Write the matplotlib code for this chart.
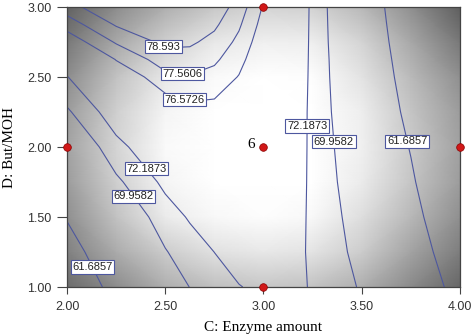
import matplotlib
matplotlib.use('Agg')
import matplotlib.pyplot as plt
import numpy as np

# grid used for the response (a bit finer where the curves bend)
enzyme = [2.00, 2.25, 2.50, 2.625, 2.75, 2.875, 3.00, 3.25, 3.50, 3.75, 4.00]
but_moh = [1.00, 1.25, 1.50, 1.75, 2.00, 2.25, 2.50, 2.625, 2.75, 2.875, 3.00]

# response (rows follow but_moh, cols follow enzyme)
response = [
    [57.0, 63.5, 68.3, 70.0, 71.3, 72.13, 72.5, 72.15, 69.7, 65.7, 59.8],
    [59.5, 65.5, 69.8, 71.2, 72.2, 72.82, 73.0, 72.05, 69.1, 64.6, 58.2],
    [62.0, 67.5, 71.2, 72.4, 73.2, 73.53, 73.4, 72.0, 68.6, 63.5, 56.6],
    [64.5, 69.5, 72.7, 73.7, 74.2, 74.26, 73.9, 71.95, 68.0, 62.4, 55.1],
    [67.0, 71.5, 74.2, 74.9, 75.2, 75.0, 74.4, 71.9, 67.5, 61.4, 53.5],
    [69.6, 73.55, 75.75, 76.19, 76.19, 75.75, 74.87, 71.85, 66.9, 60.3, 52.0],
    [72.1, 75.6, 77.29, 77.48, 77.22, 76.52, 75.39, 71.85, 66.4, 59.3, 50.4],
    [73.9, 76.63, 78.07, 78.12, 77.74, 76.92, 75.65, 71.85, 66.2, 58.8, 49.7],
    [75.9, 77.67, 78.85, 78.77, 78.26, 77.31, 75.92, 71.85, 65.9, 58.3, 48.9],
    [77.0, 78.7, 79.63, 79.43, 78.79, 77.71, 76.19, 71.85, 65.7, 57.8, 48.2],
    [78.1, 79.75, 80.42, 80.09, 79.32, 78.11, 76.47, 71.85, 65.5, 57.3, 47.4],
]

# background grey level on a coarser grid (1 = white)
shade_c = [2.00, 2.25, 2.50, 2.75, 3.00, 3.25, 3.50, 3.75, 4.00]
shade_d = [1.00, 1.25, 1.50, 1.75, 2.00, 2.25, 2.50, 2.75, 3.00]
shade = [
    [0.42, 0.55, 0.68, 0.75, 0.78, 0.76, 0.68, 0.54, 0.40],
    [0.50, 0.67, 0.80, 0.88, 0.91, 0.89, 0.80, 0.64, 0.49],
    [0.56, 0.76, 0.92, 0.97, 0.99, 0.97, 0.87, 0.72, 0.56],
    [0.61, 0.81, 0.96, 1.00, 1.00, 1.00, 0.92, 0.77, 0.61],
    [0.64, 0.83, 0.98, 1.00, 1.00, 1.00, 0.94, 0.79, 0.63],
    [0.61, 0.81, 0.96, 1.00, 1.00, 1.00, 0.93, 0.77, 0.61],
    [0.55, 0.76, 0.91, 0.98, 1.00, 0.99, 0.89, 0.73, 0.56],
    [0.47, 0.66, 0.81, 0.91, 0.94, 0.93, 0.83, 0.66, 0.47],
    [0.38, 0.55, 0.68, 0.78, 0.83, 0.82, 0.72, 0.56, 0.37],
]

levels = [61.6857, 69.9582, 72.1873, 76.5726, 77.5606, 78.593]
level_text = ['61.6857', '69.9582', '72.1873', '76.5726', '77.5606', '78.593']

# where the boxed labels sit
label_pos = [(2.50, 2.74), (2.59, 2.54), (2.60, 2.35),
             (3.22, 2.15), (3.37, 2.04), (3.73, 2.04),
             (2.41, 1.85), (2.34, 1.65), (2.14, 1.15)]

# design points
design_c = [2.0, 3.0, 3.0, 3.0, 4.0]
design_d = [2.0, 1.0, 2.0, 3.0, 2.0]

line_col = '#4d579f'

fig = plt.figure(figsize=(4.74, 3.36), dpi=100)
ax = fig.add_axes([67/474, 1-287/336, 393/474, 280/336])

SX, SY = np.meshgrid(shade_c, shade_d)
ax.pcolormesh(SX, SY, np.array(shade), shading='gouraud', cmap='gray', vmin=0, vmax=1)

X, Y = np.meshgrid(enzyme, but_moh)
cs = ax.contour(X, Y, np.array(response), levels=levels, colors=line_col, linewidths=0.8)
labels = ax.clabel(cs, inline=False, fontsize=8, fmt=dict(zip(levels, level_text)),
                   manual=label_pos, colors='#222222')
for t in labels:
    t.set_rotation(0)
    t.set_family(['Liberation Sans', 'DejaVu Sans'])
    t.set_bbox(dict(facecolor='white', edgecolor=line_col, linewidth=0.8, pad=1.2))
    t.set_zorder(5)

ax.plot(design_c, design_d, 'o', color='#d01818', mec='#8a0000', mew=0.5, ms=5.5,
        clip_on=False, zorder=6)
ax.text(2.955, 2.02, '6', family='Liberation Serif', fontsize=11, ha='right', va='center',
        zorder=6)

ax.set_xlim(2, 4)
ax.set_ylim(1, 3)
ax.set_xticks([2.0, 2.5, 3.0, 3.5, 4.0])
ax.set_yticks([1.0, 1.5, 2.0, 2.5, 3.0])
ax.set_xticklabels(['2.00', '2.50', '3.00', '3.50', '4.00'])
ax.set_yticklabels(['1.00', '1.50', '2.00', '2.50', '3.00'])
ax.tick_params(axis='x', direction='out', length=5, pad=5, labelsize=9, color='#444444',
               labelcolor='#333333')
ax.tick_params(axis='y', direction='out', length=7, pad=4, labelsize=9, color='#444444',
               labelcolor='#333333')
for lab in ax.get_xticklabels() + ax.get_yticklabels():
    lab.set_family('Liberation Sans')
for sp in ax.spines.values():
    sp.set_color('#444444')
    sp.set_linewidth(0.9)

ax.set_xlabel('C: Enzyme amount', family='Liberation Serif', fontsize=11, labelpad=6)
ax.set_ylabel('D: But/MOH', family='Liberation Serif', fontsize=11, labelpad=8)

fig.savefig('out.png', dpi=100)
